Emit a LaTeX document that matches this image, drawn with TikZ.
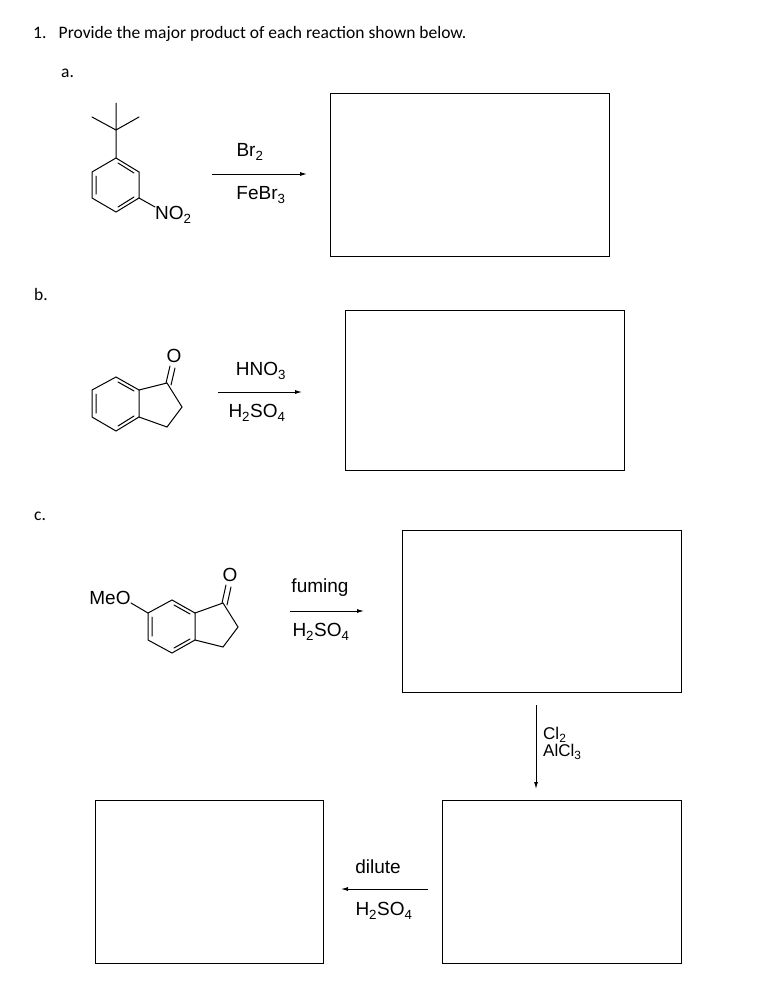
\documentclass[tikz,border=0pt]{standalone}
\usepackage{fontspec}
\setmainfont{Liberation Sans}
\newfontfamily\titlefont{Carlito}
\usetikzlibrary{arrows.meta}
\begin{document}
\begin{tikzpicture}[x=1pt,y=-1pt,
  bond/.style={line width=1pt,line cap=round},
  box/.style={draw,line width=0.9pt},
  rxn/.style={line width=0.9pt,-{Latex[length=7pt,width=4pt]}},
  lbl/.style={font=\fontsize{19}{21}\selectfont,inner sep=1pt},
  ttl/.style={font=\titlefont\fontsize{17.5}{20}\selectfont,anchor=west,inner sep=0pt}]
\useasboundingbox (0,0) rectangle (768,988);
\node[ttl] (t) at (33,34) {1.\hspace{0.7em}Provide the major product of each reaction shown below.};
\node[ttl] (la) at (61,73) {a.};
\node[ttl] (lb) at (34,294) {b.};
\node[ttl] (lc) at (34,516) {c.};
% --- a ---
\draw[bond] (116,158)--(139,172)--(139,198)--(116,212)--(92,198)--(92,172)--cycle;
\draw[bond] (96,176)--(96,194) (118,163)--(134,173) (134,197)--(118,207);
\draw[bond] (116,158)--(116,130) (116,130)--(116,103) (116,130)--(92,117) (116,130)--(139,117);
\draw[bond] (139,198)--(155,207);
\node[lbl,anchor=west] (no2) at (154,215) {NO\textsubscript{2}};
\coordinate (a1) at (212,174); \coordinate (a2) at (307,174);
\draw[rxn] (a1)--(a2);
\node[lbl] at (250,152) {Br\textsubscript{2}};
\node[lbl] at (261,195) {FeBr\textsubscript{3}};
\node[box,minimum width=279,minimum height=163,anchor=north west] (ba) at (330,93) {};
% --- b ---
\draw[bond] (92,390)--(116,377)--(139,390)--(139,417)--(116,431)--(92,417)--cycle;
\draw[bond] (96,394)--(96,413) (118,382)--(134,391) (134,416)--(118,426);
\draw[bond] (139,390)--(167,383)--(182,407)--(167,427)--(139,417);
\draw[bond] (166,383)--(170,366) (171,385)--(175,368);
\node[lbl] (ob) at (174,356) {O};
\coordinate (b1) at (218,392); \coordinate (b2) at (302,392);
\draw[rxn] (b1)--(b2);
\node[lbl] at (261,371) {HNO\textsubscript{3}};
\node[lbl] at (257,413) {H\textsubscript{2}SO\textsubscript{4}};
\node[box,minimum width=279,minimum height=160,anchor=north west] (bb) at (345,310) {};
% --- c ---
\node[lbl] (meo) at (110,598) {MeO};
\draw[bond] (131,603)--(148,613);
\draw[bond] (148,613)--(172,600)--(195,613)--(195,640)--(172,653)--(148,640)--cycle;
\draw[bond] (152,617)--(152,636) (174,605)--(190,614) (190,639)--(174,648);
\draw[bond] (195,613)--(223,603)--(238,627)--(223,647)--(195,640);
\draw[bond] (222,603)--(226,585) (227,605)--(231,587);
\node[lbl] (oc) at (230,575) {O};
\coordinate (c1) at (290,611); \coordinate (c2) at (364,611);
\draw[rxn] (c1)--(c2);
\node[lbl] at (320,588) {fuming};
\node[lbl] at (321,632) {H\textsubscript{2}SO\textsubscript{4}};
\node[box,minimum width=279,minimum height=162,anchor=north west] (bc) at (402,530) {};
\node[box,minimum width=239,minimum height=163,anchor=north west] (bd) at (442,800) {};
\node[box,minimum width=228,minimum height=163,anchor=north west] (be) at (95,800) {};
\coordinate (d1) at (536,705); \coordinate (d2) at (536,789);
\draw[rxn] (d1)--(d2);
\node[anchor=west,font=\fontsize{17}{18}\selectfont,inner sep=0pt] at (543,735) {Cl\textsubscript{2}};
\node[anchor=west,font=\fontsize{17}{18}\selectfont,inner sep=0pt] at (543,752) {AlCl\textsubscript{3}};
\coordinate (e1) at (428,889); \coordinate (e2) at (341,889);
\draw[rxn] (e1)--(e2);
\node[lbl] at (378,867) {dilute};
\node[lbl] at (384,911) {H\textsubscript{2}SO\textsubscript{4}};
\end{tikzpicture}
\end{document}
